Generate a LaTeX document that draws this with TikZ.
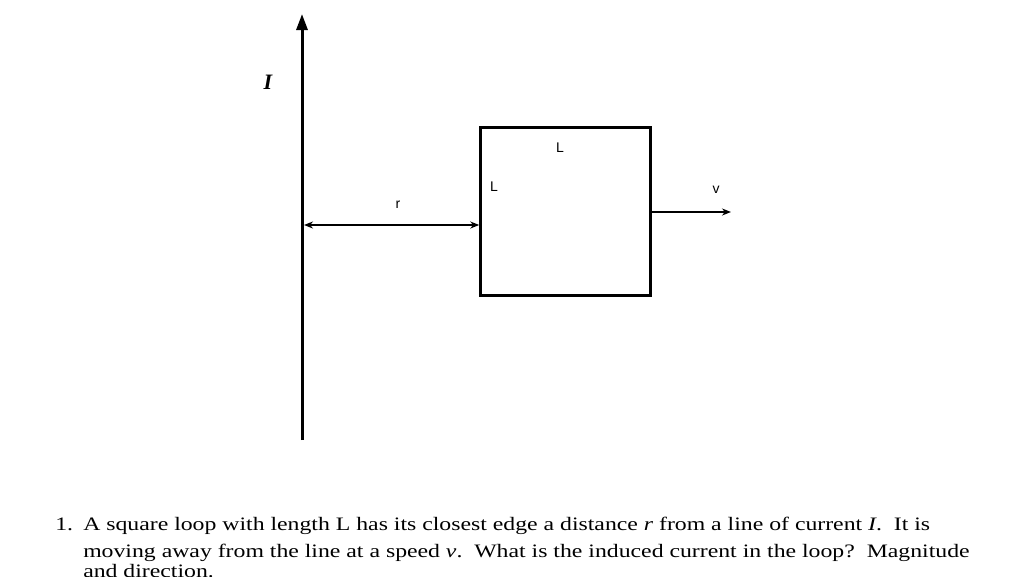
\documentclass[tikz,border=0pt]{standalone}
\usepackage{fontspec}
\setmainfont{Liberation Serif}
\newfontfamily\lab{Liberation Sans}
\usetikzlibrary{arrows.meta}
\begin{document}
\begin{tikzpicture}[x=1pt,y=-1pt,
  lbl/.style={font=\lab\fontsize{14}{16}\selectfont,inner sep=0},
  txt/.style={anchor=base west,inner sep=0,xscale=1.25,font=\fontsize{19}{22}\selectfont}]
\useasboundingbox (0,0) rectangle (1024,576);
\coordinate (bot) at (302,440);
\coordinate (top) at (302,14);
\draw[line width=3pt,-{Triangle[length=16pt,width=11pt]}] (bot) -- (top);
\node[inner sep=0,font=\bfseries\itshape\fontsize{22}{24}\selectfont] (I) at (268,82) {I};
\node[draw,line width=2.5pt,minimum width=170pt,minimum height=168pt,inner sep=0] (sq) at (565.5,211.5) {};
\node[lbl] (L1) at (560,148) {L};
\node[lbl] (L2) at (494,187) {L};
\node[lbl] (r) at (398,205) {r};
\node[lbl] (v) at (716,190) {v};
\coordinate (wl) at (304,225);
\draw[line width=1.5pt,{Stealth[open,length=9pt,width=7pt]}-{Stealth[open,length=9pt,width=7pt]}] (wl) -- (sq.west |- wl);
\coordinate (vr) at (731,212);
\draw[line width=1.5pt,-{Stealth[open,length=9pt,width=7pt]}] (sq.east |- vr) -- (vr);
\node[txt] (n1) at (55,530) {1.};
\node[txt] (t1) at (83,530) {A square loop with length L has its closest edge a distance \textit{r} from a line of current \textit{I}.\ \ It is};
\node[txt] (t2) at (83,557) {moving away from the line at a speed \textit{v}.\ \ What is the induced current in the loop?\ \ Magnitude};
\node[txt] (t3) at (83,577) {and direction.};
\end{tikzpicture}
\end{document}
